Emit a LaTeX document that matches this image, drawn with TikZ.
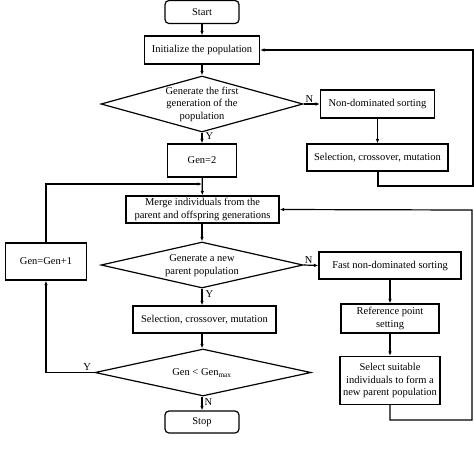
\documentclass[tikz,border=0pt]{standalone}
\usepackage{fontspec}
\setmainfont{Liberation Serif}
\usetikzlibrary{shapes.geometric,arrows.meta}
\begin{document}
\begin{tikzpicture}[x=1pt,y=-1pt,
  font=\fontsize{10.5}{12.5}\selectfont,
  box/.style={draw,line width=1.2pt,inner sep=1pt,align=center},
  term/.style={box,rounded corners=4pt},
  dia/.style={draw,line width=1.2pt,diamond,inner sep=0pt},
  txt/.style={inner sep=0pt,align=center},
  arr/.style={line width=1.2pt,-{Latex[length=4.5pt,width=3.5pt]}},
  lab/.style={inner sep=0pt}]
\useasboundingbox (0,0) rectangle (474,451);
% main column
\node[term,minimum width=74pt,minimum height=23pt] (start) at (202,12) {Start};
\node[box,minimum width=115pt,minimum height=28pt] (init) at (202,50) {Initialize the population};
\node[dia,minimum width=202pt,minimum height=56pt] (d1) at (202,104) {};
\node[txt] (d1t) at (202,104) {Generate the first\\generation of the\\population};
\node[box,minimum width=69pt,minimum height=33pt] (gen2) at (202,160.5) {Gen=2};
\node[box,minimum width=153pt,minimum height=27pt] (merge) at (202.5,209.5) {Merge individuals from the\\parent and offspring generations};
\node[dia,minimum width=202pt,minimum height=46pt] (d2) at (202,265) {};
\node[txt] (d2t) at (202,265.5) {Generate a new\\parent population};
\node[box,minimum width=143pt,minimum height=27pt] (sel) at (204.5,319.5) {Selection, crossover, mutation};
\node[dia,minimum width=216pt,minimum height=47pt] (d3) at (203,372.5) {};
\node[txt] (d3t) at (202,373) {Gen < Gen\textsubscript{max}};
\node[term,minimum width=74pt,minimum height=22pt] (stop) at (202,422) {Stop};
% left
\node[box,minimum width=81pt,minimum height=37pt] (inc) at (46,261.5) {Gen=Gen+1};
% right upper
\node[box,minimum width=114pt,minimum height=28pt] (nds) at (377.5,104) {Non-dominated sorting};
\node[box,minimum width=141pt,minimum height=27pt] (sel1) at (377.5,157.5) {Selection, crossover, mutation};
% right lower
\node[box,minimum width=142pt,minimum height=27pt] (fnds) at (390,265.5) {Fast non-dominated sorting};
\node[box,minimum width=98pt,minimum height=29pt] (ref) at (390,318.5) {Reference point\\setting};
\node[box,minimum width=100pt,minimum height=48pt] (pick) at (390,380.5) {Select suitable\\individuals to form a\\new parent population};
% helper coordinates
\coordinate (c1) at (378,186);
\coordinate (c2) at (473,186);
\coordinate (c3) at (473,50);
\coordinate (c4) at (390,420);
\coordinate (c5) at (472,420);
\coordinate (c6) at (472,210);
\coordinate (c7) at (46,372.5);
\coordinate (c8) at (46,184);
\coordinate (c9) at (202,184);
% connectors
\draw[arr] (start) -- (init);
\draw[arr] (init) -- (d1);
\draw[arr] (d1) -- (gen2) node[lab,pos=0.35,right=3pt] {Y};
\draw[arr] (d1.east) -- (nds.west) node[lab,pos=0.35,above=1pt] {N};
\draw[arr] (nds) -- (sel1);
\draw[arr] (sel1.south -| c1) -- (c1) -- (c2) -- (c3) -- (init.east);
\draw[arr] (gen2) -- (merge);
\draw[arr] (inc.north) -- (c8) -- (c9);
\draw[arr] (merge.south -| d2.north) -- (d2.north);
\draw[arr] (d2.east) -- (fnds.west) node[lab,pos=0.35,above=1pt] {N};
\draw[arr] (d2.south) -- (sel.north -| d2.south) node[lab,pos=0.3,right=3pt] {Y};
\draw[arr] (sel.south -| d2.south) -- (d3.north -| d2.south);
\draw[arr] (d3.south -| stop.north) -- (stop.north) node[lab,pos=0.4,right=2pt] {N};
\draw[arr] (d3.west) -- (c7) node[lab,pos=0.15,above=1pt] {Y} -- (inc.south);
\draw[arr] (fnds.south -| ref.north) -- (ref.north);
\draw[arr] (ref) -- (pick);
\draw[arr] (pick.south) -- (c4) -- (c5) -- (c6) -- (merge.east);
\end{tikzpicture}
\end{document}
